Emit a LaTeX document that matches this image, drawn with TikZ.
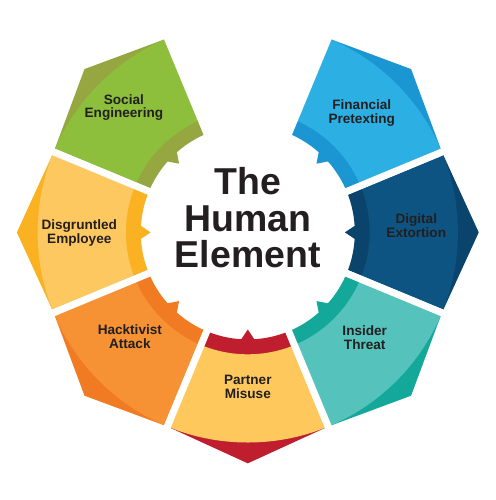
\documentclass[tikz,border=0pt]{standalone}
\usepackage{fontspec}
\setmainfont{Liberation Sans}
\definecolor{txt}{HTML}{231F20}
\definecolor{socialdk}{HTML}{96A640}
\definecolor{sociallt}{HTML}{8DBE3C}
\definecolor{findk}{HTML}{1B96D2}
\definecolor{finlt}{HTML}{2CB0E4}
\definecolor{digdk}{HTML}{0A446C}
\definecolor{diglt}{HTML}{0D5482}
\definecolor{insdk}{HTML}{14A89B}
\definecolor{inslt}{HTML}{55C3BC}
\definecolor{partdk}{HTML}{BE1E2D}
\definecolor{partlt}{HTML}{FEC85C}
\definecolor{hackdk}{HTML}{F17B22}
\definecolor{hacklt}{HTML}{F69233}
\definecolor{disgdk}{HTML}{FAB223}
\definecolor{disglt}{HTML}{FDC85F}
\tikzset{
    seglabel/.style = {font=\fontsize{7.8}{8}\selectfont\bfseries,
        text=txt, align=center, inner sep=0},
    bigtext/.style = {font=\fontsize{21.5}{21}\selectfont\bfseries,
        text=txt, align=center, inner sep=0},
    gapline/.style = {draw=white, line width=0.14cm}
}
% one piece of the ring: #1 angle, #2 dark colour, #3 light colour
\newcommand{\ringpiece}[3]{%
    \begin{scope}
        \clip (#1-22.5:108) -- (#1-22.5:212) -- (#1:233) -- (#1+22.5:212) -- (#1+22.5:108)
            arc[start angle=#1+22.5, end angle=#1+3.5, radius=108] -- (#1:98) -- (#1-3.5:108)
            arc[start angle=#1-3.5, end angle=#1-22.5, radius=108] -- cycle;
        \fill[#2] (0,0) circle[radius=240];
        \fill[#3, even odd rule] (0,0) circle[radius=212] (0,0) circle[radius=123];
    \end{scope}
    \draw[gapline] (#1-22.5:90) -- (#1-22.5:250) (#1+22.5:90) -- (#1+22.5:250);
}

\begin{document}
\begin{tikzpicture}[x=0.02cm, y=0.02cm]
    \fill[white] (-250,-270) rectangle (250,230);
    \ringpiece{0}{digdk}{diglt}
    \ringpiece{45}{findk}{finlt}
    \ringpiece{135}{socialdk}{sociallt}
    \ringpiece{180}{disgdk}{disglt}
    \ringpiece{225}{hackdk}{hacklt}
    \ringpiece{270}{partdk}{partlt}
    \ringpiece{315}{insdk}{inslt}
    \node[seglabel] (social) at (-125,126) {Social\\Engineering};
    \node[seglabel] (financial) at (115,120) {Financial\\Pretexting};
    \node[seglabel] (digital) at (170,6.5) {Digital\\Extortion};
    \node[seglabel] (insider) at (118,-106) {Insider\\Threat};
    \node[seglabel] (partner) at (0,-155.5) {Partner\\Misuse};
    \node[seglabel] (hacktivist) at (-119,-105.5) {Hacktivist\\Attack};
    \node[seglabel] (disgruntled) at (-170,-0.5) {Disgruntled\\Employee};
    \node[bigtext] (title) at (0,14.5) {The\\Human\\Element};
\end{tikzpicture}
\end{document}
